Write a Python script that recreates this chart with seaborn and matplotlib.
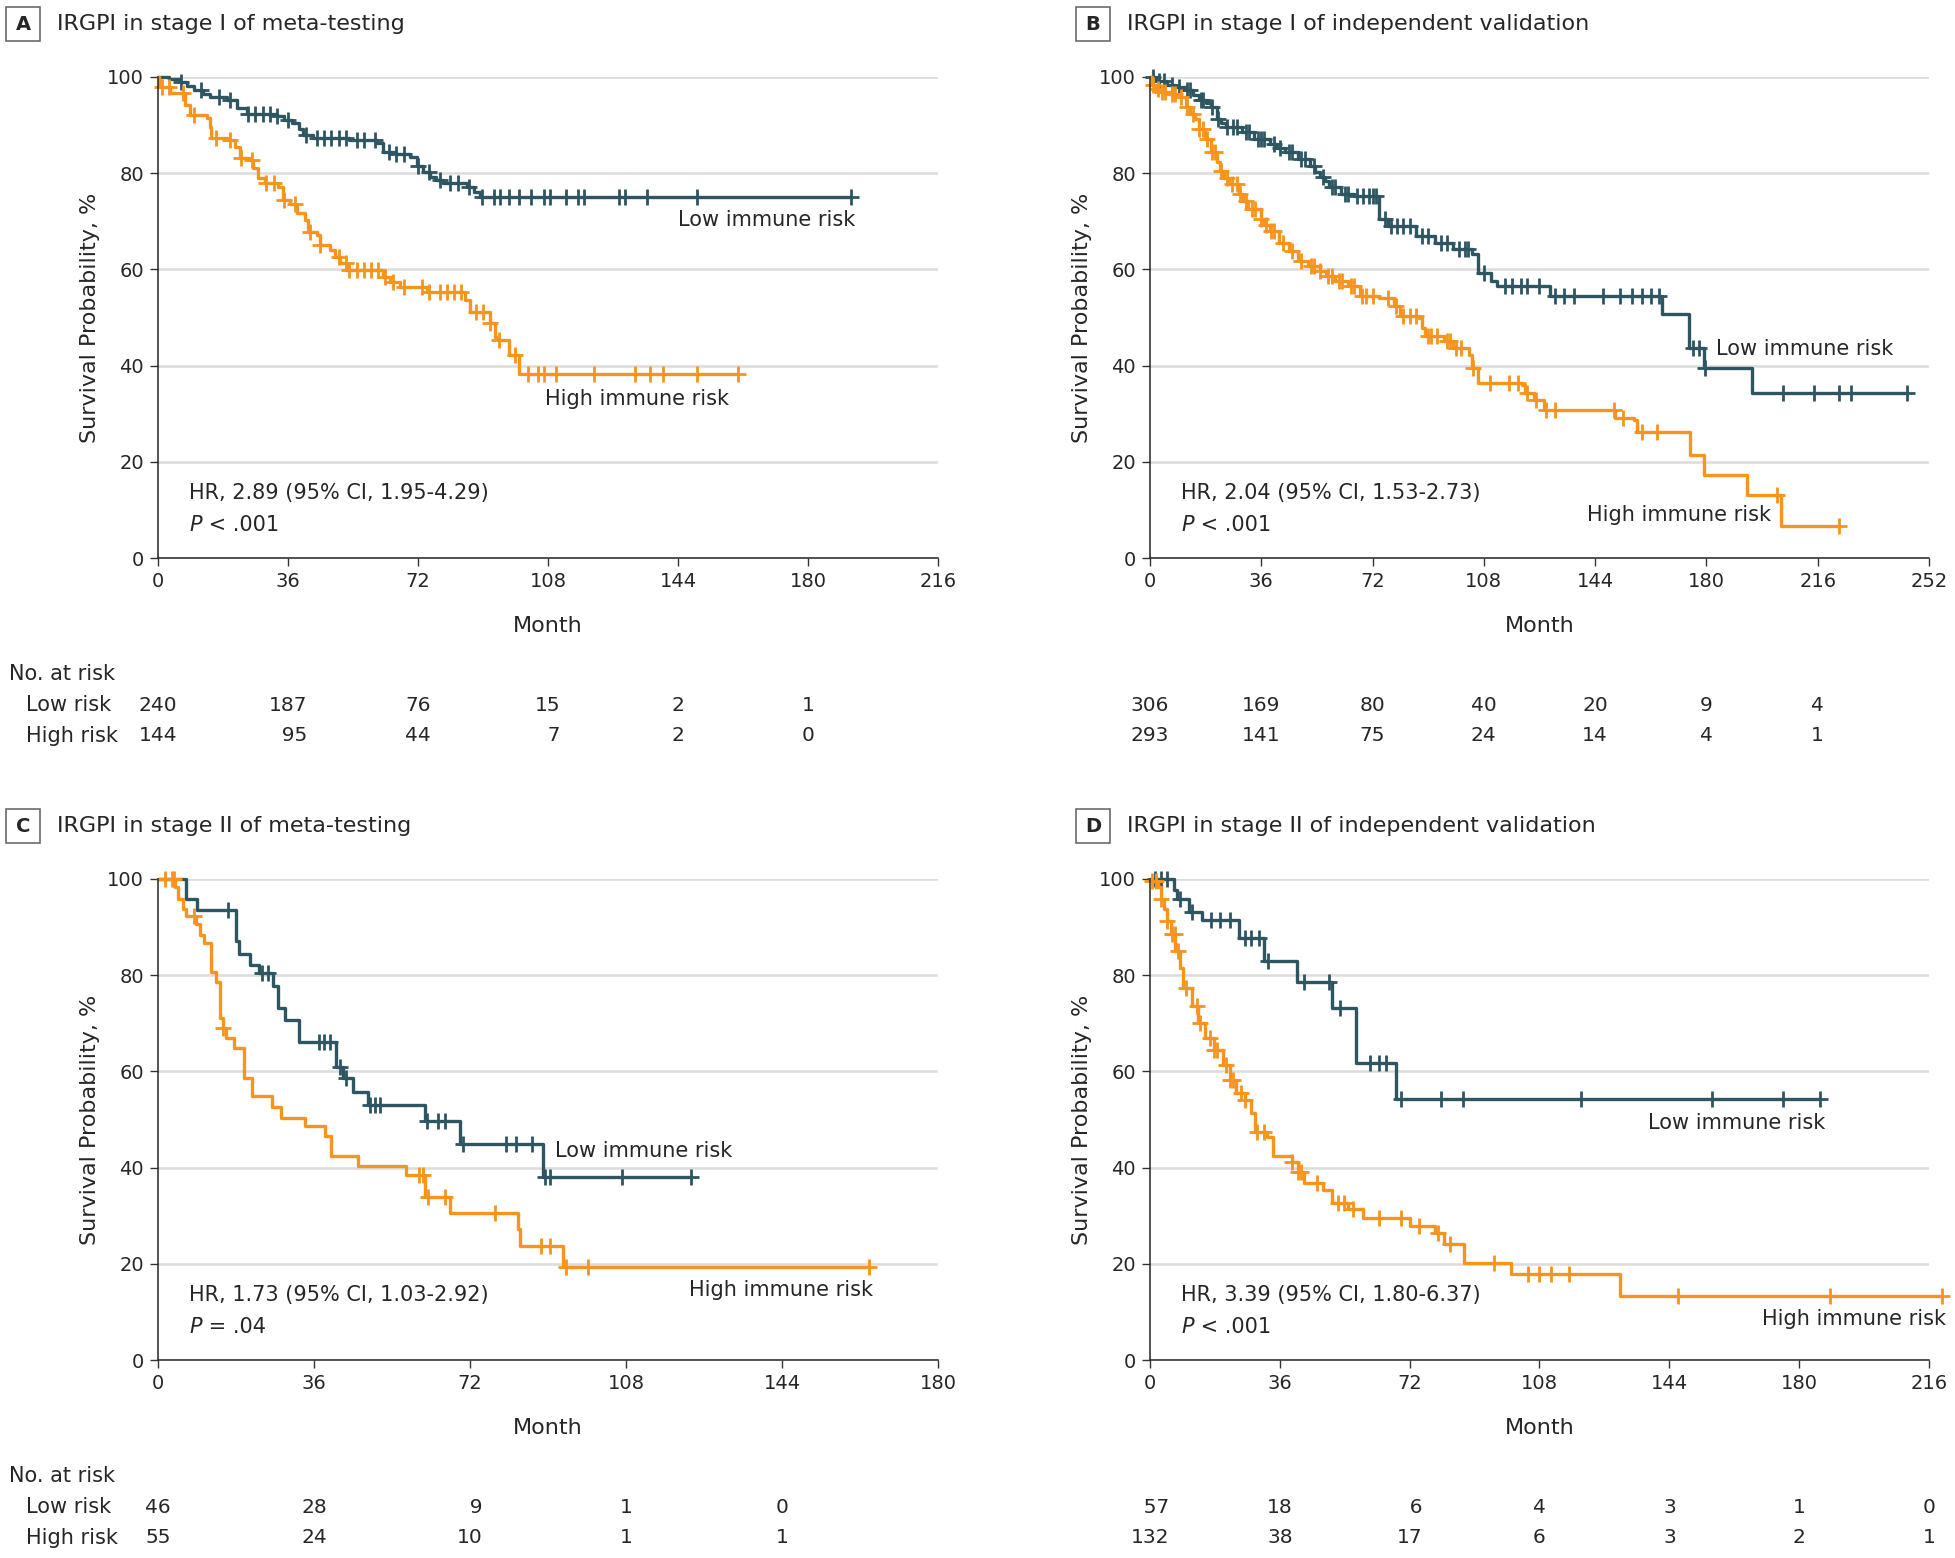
import numpy as np
import seaborn as sns
import matplotlib.pyplot as plt
from matplotlib.patches import Rectangle
from matplotlib.transforms import blended_transform_factory

LOW_COLOR = "#2d5562"
HIGH_COLOR = "#f7941d"

# ---- panel A: stage I, meta-testing ----
a_low_t = [0, 3, 6, 8, 10, 12.5, 14.4, 19, 21.8, 24.6, 33, 35, 37, 39, 40.2, 43, 53, 60.6, 62.4, 66,
           69.8, 71.6, 73.5, 75.3, 77, 79, 85.5, 87.5, 89.2]
a_low_s = [100, 99.5, 99.0, 98.2, 97.3, 96.5, 95.9, 95.2, 93.5, 92.4, 91.8, 91.0, 90.4, 89.2, 87.9, 87.3,
           86.9, 86.2, 84.5, 83.9, 83.4, 81.4, 80.3, 79.3, 78.6, 77.9, 77.2, 76.0, 75.1]
a_low_cens = [6.5, 12, 17, 20, 25, 27, 29, 31, 33, 36, 41, 44, 46, 48, 50, 52, 55, 57, 60, 64, 66, 68, 72,
              75, 78, 81, 83, 86, 89.6, 93, 94.8, 97.3, 99.9, 103.4, 106.9, 108.6, 112.9, 116.4, 118.1,
              127.7, 129.4, 135.5, 149.3, 191.8]
a_high_t = [0, 0.2, 3.4, 7.5, 8.9, 13.5, 14.4, 14.8, 19.5, 21.3, 22.7, 25.5, 26.4, 27.8, 29.6, 33.3, 34.7,
            36.6, 38.4, 40.7, 41.6, 43.9, 44.9, 47.6, 49.0, 50.4, 52.3, 62.4, 64.2, 67.0, 74.4, 85.0, 86.4,
            91.9, 93.3, 94.2, 97.3, 100.0]
a_high_s = [100, 97.9, 96.7, 94.2, 92.1, 91.4, 89.7, 87.3, 86.9, 85.5, 83.1, 82.7, 81.0, 78.9, 77.9, 77.2,
            74.4, 73.7, 71.7, 70.3, 67.8, 67.2, 65.1, 64.0, 62.6, 61.3, 59.9, 58.5, 57.4, 56.4, 55.4, 53.6,
            51.2, 48.8, 46.0, 45.3, 42.1, 38.3]
a_high_cens = [1, 3, 7, 10, 16, 20, 23, 26, 30, 32, 35, 38, 42, 45, 50, 52, 53, 55, 57, 59, 61, 63, 65, 68,
               73, 75, 78, 80, 82, 84, 88, 90, 92, 94.5, 99, 102.5, 105.1, 106.9, 110.3, 120.7, 132, 136.3,
               139.8, 149.3, 160.6]
a_risk_low = [240, 187, 76, 15, 2, 1]
a_risk_high = [144, 95, 44, 7, 2, 0]

# ---- panel B: stage I, independent validation ----
b_low_t = [0, 2, 5.6, 8, 11.7, 14, 15.7, 18, 19.7, 21.7, 23, 24.7, 29.8, 33.8, 38.8, 41, 43.8, 47.9, 51.9,
           53.5, 54.9, 56.5, 57.9, 61.9, 66, 74, 77, 86.1, 92.1, 98.1, 104.2, 106.2, 110.2, 112.2, 129.3,
           165.5, 174.5, 179.2, 194.7]
b_low_s = [100, 99.2, 98.4, 97.9, 97.4, 96.3, 95.3, 94.5, 93.8, 91.2, 90.4, 89.7, 88.6, 87.1, 86.0, 85.3,
           84.5, 82.9, 81.4, 80.3, 79.3, 78.3, 77.2, 75.7, 75.2, 70.5, 69.0, 66.9, 65.4, 64.3, 63.3, 59.2,
           57.6, 56.6, 54.5, 50.7, 43.6, 39.6, 34.4]
b_low_cens = [1, 3, 4.5, 7, 9.5, 12, 13, 16.5, 17, 20, 22, 25, 27, 28, 31, 32, 35, 36, 37, 40, 42, 45, 46,
              49, 50, 53, 56, 59, 60, 63, 64, 67, 69, 71, 72, 73, 76, 78, 80, 82, 84, 88, 90, 94, 96, 100,
              102, 103, 108, 115, 117, 120, 122, 126, 131, 134, 137, 146.4, 152, 156, 159, 162, 164.5,
              175.5, 177.6, 179.6, 204.7, 214.8, 222.8, 226.8, 245]
b_high_t = [0, 0.6, 2, 3.6, 6, 9.7, 11.7, 13, 14.7, 15.7, 17.7, 19.7, 21.7, 22.7, 24, 25.7, 28.8, 30, 31.8,
            35.8, 37, 38.8, 41.8, 44.9, 47.9, 51, 54.9, 57, 59.9, 64, 68, 74, 79, 81, 87.1, 88.1, 89.1,
            95.1, 98.1, 103.1, 104.2, 106.2, 120.3, 121.3, 124.3, 127.4, 150.4, 156.5, 157.5, 174.6,
            179.2, 193.1, 204.1]
b_high_s = [100, 98.4, 97.6, 96.9, 96.4, 95.9, 93.8, 92.4, 91.2, 89.1, 87.1, 84.5, 82.4, 80.4, 79.1, 77.8,
            75.7, 74.2, 72.6, 70.5, 69.2, 67.9, 65.4, 63.8, 61.7, 60.8, 59.7, 58.6, 57.6, 56.6, 54.5, 54.0,
            52.4, 50.4, 49.8, 47.8, 46.2, 45.2, 43.6, 42.1, 39.5, 36.4, 35.9, 34.3, 32.8, 30.7, 29.2, 28.6,
            26.1, 21.4, 17.2, 13.0, 6.7]
b_high_cens = [1, 2.5, 4, 5, 7, 8, 10, 12, 14, 16, 17, 18.5, 20, 21, 23, 25, 26.5, 28, 29, 31, 33, 34, 36,
               37.5, 39, 40, 43, 46, 49, 52, 53, 55, 57.5, 59, 61, 62, 65, 66, 68.5, 70, 72, 77, 79.5, 82,
               84, 86, 90, 91, 93, 96, 97, 99, 100.5, 104.5, 110, 116, 119, 122, 125, 128, 131, 150, 153,
               159, 164, 202.7, 222.8]
b_risk_low = [306, 169, 80, 40, 20, 9, 4]
b_risk_high = [293, 141, 75, 24, 14, 4, 1]

# ---- panel C: stage II, meta-testing ----
c_low_t = [0, 6.5, 8.9, 18.0, 18.8, 21.2, 23.4, 26.6, 27.7, 29.2, 32.5, 41.0, 42.6, 45.0, 48.4, 61.6,
           69.6, 88.8]
c_low_s = [100, 95.9, 93.6, 87.1, 84.5, 82.2, 80.4, 77.8, 73.1, 70.6, 66.1, 60.9, 58.7, 55.8, 53.0, 49.6,
           45.0, 38.0]
c_low_cens = [16.2, 24.1, 25.3, 37.1, 38.3, 39.7, 42.1, 43.3, 48.9, 50.1, 51.2, 62.0, 64.5, 66.3, 70.3,
              80.4, 82.6, 86.2, 89.4, 90.5, 107.1, 123.0]
c_high_t = [0, 3.9, 4.6, 5.8, 6.5, 8.7, 9.7, 10.7, 12.3, 13.3, 14.3, 15.0, 15.7, 17.6, 19.8, 21.7, 26.3,
            28.4, 33.9, 38.5, 40.0, 46.2, 57.3, 61.6, 67.4, 83.0, 83.6, 93.4]
c_high_s = [100, 98.4, 95.9, 93.8, 92.3, 90.7, 88.4, 86.6, 80.7, 78.5, 71.1, 69.0, 66.9, 64.9, 58.7, 54.8,
            52.5, 50.4, 48.6, 46.5, 42.5, 40.4, 38.5, 33.9, 30.6, 27.2, 23.8, 19.4]
c_high_cens = [1.7, 3.2, 3.6, 8.2, 15.0, 60.2, 61.1, 62.3, 66.3, 77.8, 88.3, 90.5, 94.1, 99.2, 164.1]
c_risk_low = [46, 28, 9, 1, 0]
c_risk_high = [55, 24, 10, 1, 1]

# ---- panel D: stage II, independent validation ----
d_low_t = [0, 6.6, 7.4, 10.9, 14.3, 24.7, 31.5, 40.7, 50.5, 57.1, 68.3]
d_low_s = [100, 97.7, 95.9, 93.1, 91.4, 87.8, 83.0, 78.5, 73.1, 61.8, 54.2]
d_low_cens = [1.4, 3.1, 4.8, 8.3, 11.7, 16.9, 19.5, 22.1, 26.4, 28.1, 30.2, 32.8, 42.8, 49.6, 52.8, 60.9,
              63.4, 65.5, 69.5, 80.7, 86.7, 119.5, 155.7, 175.5, 185.8]
d_high_t = [0, 0.5, 2.2, 3.1, 4.0, 4.8, 5.7, 7.0, 8.3, 9.1, 11.7, 13.4, 15.2, 17.8, 20.3, 22.1, 23.8, 26.4,
            28.1, 29.0, 32.4, 34.1, 39.3, 41.0, 42.8, 47.9, 50.5, 54.8, 59.1, 72.1, 79.0, 81.6, 87.2,
            100.2, 130.3]
d_high_s = [100, 99.5, 98.4, 95.9, 93.8, 91.2, 88.6, 85.0, 81.4, 77.3, 73.7, 70.0, 66.9, 64.4, 61.3, 58.2,
            55.6, 54.0, 51.4, 47.3, 46.3, 42.4, 41.1, 39.0, 36.8, 35.4, 32.6, 31.3, 29.5, 27.9, 26.4, 24.1,
            20.2, 17.9, 13.4]
d_high_cens = [0.5, 1.7, 3.1, 4.8, 6.2, 6.9, 7.9, 10.0, 13.1, 13.8, 16.6, 17.8, 18.6, 21.2, 22.1, 22.9,
               25.2, 26.4, 29.8, 31.5, 39.3, 41.0, 41.9, 46.2, 52.2, 53.9, 56.2, 63.4, 69.5, 74.7, 79.9,
               83.3, 95.4, 104.9, 107.8, 111.3, 116.1, 146.3, 188.6, 219.6]
d_risk_low = [57, 18, 6, 4, 3, 1, 0]
d_risk_high = [132, 38, 17, 6, 3, 2, 1]

W, H = 1956, 1558

sns.set_style("ticks")
plt.rcParams["font.family"] = ["DejaVu Sans"]

fig = plt.figure(figsize=(W / 100, H / 100), dpi=100)


def draw_curve(ax, t, s, cens, color):
    t = list(t)
    s = list(s)
    if max(cens) > t[-1]:
        t.append(max(cens))
        s.append(s[-1])
    t = np.array(t)
    s = np.array(s)
    sns.lineplot(x=t, y=s, drawstyle="steps-post", color=color, lw=2.4,
                 estimator=None, sort=False, ax=ax)
    ax.lines[-1].set_clip_on(False)
    c = np.asarray(cens)
    idx = np.searchsorted(t, c, side="right") - 1
    ax.plot(c, s[idx], "+", color=color, ms=11, mew=2, clip_on=False)


def panel(left_px, top_px, width_px, xmax, letter, title, low, high, hr, p_text,
          low_lab, high_lab, risk_low, risk_high, row_names):
    ax = fig.add_axes([left_px / W, 1 - (top_px + 481) / H, width_px / W, 481 / H])
    ax.yaxis.grid(True, color="#dcdcdc", lw=1.8)
    ax.set_axisbelow(True)

    draw_curve(ax, *low, LOW_COLOR)
    draw_curve(ax, *high, HIGH_COLOR)

    ax.set_xlim(0, xmax)
    ax.set_ylim(0, 100)
    ax.set_xticks(np.arange(0, xmax + 1, 36))
    ax.set_yticks(np.arange(0, 101, 20))
    ax.tick_params(length=6, width=1, labelsize=14, pad=4, color="#333333")
    sns.despine(ax=ax)
    for sp in ("left", "bottom"):
        ax.spines[sp].set_linewidth(1.1)
    ax.set_xlabel("Month", fontsize=16)
    ax.xaxis.set_label_coords(0.5, -0.12)
    ax.set_ylabel("Survival Probability, %", fontsize=16)
    ax.yaxis.set_label_coords(-0.074, 0.5)

    hr_x = xmax * 0.04
    ax.text(hr_x, 13.5, hr, fontsize=15, va="center")
    p = ax.text(hr_x, 6.9, "P", fontsize=15, va="center", style="italic")
    ax.annotate(p_text, xy=(1, 0), xycoords=p, va="bottom", fontsize=15)

    for (x, y, ha), txt in ((low_lab, "Low immune risk"), (high_lab, "High immune risk")):
        ax.text(x, y, txt, ha=ha, va="center", fontsize=15)

    # number at risk table
    tr = blended_transform_factory(ax.transData, ax.transAxes)
    for i, (lo, hi) in enumerate(zip(risk_low, risk_high)):
        n = max(len(str(lo)), len(str(hi)))
        ax.text(i * 36, -0.306, str(lo).rjust(n, "\u2007"), transform=tr, ha="center",
                va="center", fontsize=14.5)
        ax.text(i * 36, -0.370, str(hi).rjust(n, "\u2007"), transform=tr, ha="center",
                va="center", fontsize=14.5)
    if row_names:
        ax.text(-0.191, -0.241, "No. at risk", transform=ax.transAxes, ha="left",
                va="center", fontsize=15)
        ax.text(-0.169, -0.306, "Low risk", transform=ax.transAxes, ha="left",
                va="center", fontsize=15)
        ax.text(-0.169, -0.370, "High risk", transform=ax.transAxes, ha="left",
                va="center", fontsize=15)

    # panel header: boxed letter and title
    box_x = left_px - 152 if left_px < 500 else left_px - 74
    cy = top_px - 53
    fig.patches.append(Rectangle((box_x / W, 1 - (cy + 17) / H), 34 / W, 34 / H,
                                 transform=fig.transFigure, fill=False,
                                 ec="#6b6b6b", lw=1.2))
    fig.text((box_x + 17) / W, 1 - cy / H, letter, ha="center", va="center",
             fontsize=14, fontweight="bold")
    fig.text((box_x + 51) / W, 1 - cy / H, title, ha="left", va="center", fontsize=16)
    return ax


panel(158, 77, 780, 216, "A", "IRGPI in stage I of meta-testing",
      (a_low_t, a_low_s, a_low_cens), (a_high_t, a_high_s, a_high_cens),
      "HR, 2.89 (95% CI, 1.95-4.29)", " < .001",
      (193, 70.3, "right"), (158, 33, "right"), a_risk_low, a_risk_high, True)

panel(1150, 77, 779, 252, "B", "IRGPI in stage I of independent validation",
      (b_low_t, b_low_s, b_low_cens), (b_high_t, b_high_s, b_high_cens),
      "HR, 2.04 (95% CI, 1.53-2.73)", " < .001",
      (183, 43.4, "left"), (201, 8.9, "right"), b_risk_low, b_risk_high, False)

panel(158, 879, 780, 180, "C", "IRGPI in stage II of meta-testing",
      (c_low_t, c_low_s, c_low_cens), (c_high_t, c_high_s, c_high_cens),
      "HR, 1.73 (95% CI, 1.03-2.92)", " = .04",
      (91.6, 43.5, "left"), (165, 14.6, "right"), c_risk_low, c_risk_high, True)

panel(1150, 879, 779, 216, "D", "IRGPI in stage II of independent validation",
      (d_low_t, d_low_s, d_low_cens), (d_high_t, d_high_s, d_high_cens),
      "HR, 3.39 (95% CI, 1.80-6.37)", " < .001",
      (187.2, 49.3, "right"), (220.7, 8.5, "right"), d_risk_low, d_risk_high, False)

fig.savefig("out.png", dpi=100)
